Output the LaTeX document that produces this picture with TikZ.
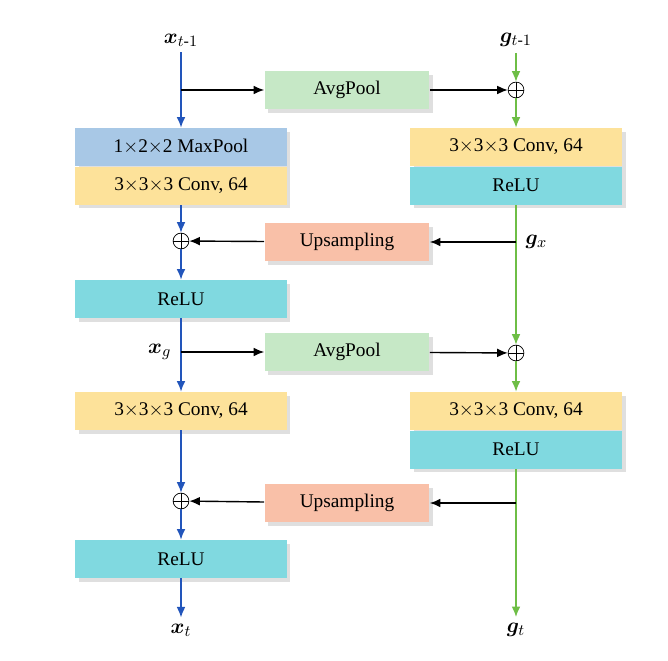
\documentclass[tikz,border=0pt]{standalone}
\usepackage{amsmath}
\usepackage{bm}
\usepackage{fontspec}
\setmainfont{Liberation Serif}
\usetikzlibrary{arrows.meta, positioning, shadows}
\definecolor{poolcolor}{RGB}{168, 200, 230}
\definecolor{convcolor}{RGB}{253, 226, 154}
\definecolor{relucolor}{RGB}{128, 217, 224}
\definecolor{avgcolor}{RGB}{198, 232, 198}
\definecolor{upcolor}{RGB}{249, 192, 168}
\definecolor{bluearrow}{RGB}{34, 85, 187}
\definecolor{greenarrow}{RGB}{110, 190, 70}

\begin{document}
\begin{tikzpicture}[
    x=0.02cm, y=-0.02cm,
    >={Latex[length=6pt, width=5pt]},
    block/.style={rectangle, minimum width=4.24cm, minimum height=0.76cm, inner sep=0pt, align=center,
        font=\fontsize{11}{13}\selectfont, drop shadow={shadow xshift=2pt, shadow yshift=-2pt, fill=black!25}},
    pool/.style={block, fill=poolcolor},
    conv/.style={block, fill=convcolor},
    relu/.style={block, fill=relucolor},
    avg/.style={block, fill=avgcolor, minimum width=3.3cm},
    up/.style={block, fill=upcolor, minimum width=3.3cm},
    plus/.style={circle, draw, inner sep=0pt, minimum size=9pt, path picture={
        \draw (path picture bounding box.north) -- (path picture bounding box.south)
              (path picture bounding box.west) -- (path picture bounding box.east);}},
    xarrow/.style={->, thick, draw=bluearrow},
    garrow/.style={->, thick, draw=greenarrow},
    crossarrow/.style={->, thick},
    label/.style={font=\fontsize{13}{15}\selectfont}
]
\useasboundingbox (0,0) rectangle (668,661);

% Inputs and outputs
\node[label] (xin) at (181, 40) {$\bm{x}_{t\text{-}1}$};
\node[label] (gin) at (516, 40) {$\bm{g}_{t\text{-}1}$};
\node[label] (xout) at (181, 630) {$\bm{x}_{t}$};
\node[label] (gout) at (516, 630) {$\bm{g}_{t}$};

% === Left branch ===
\node[pool] (maxpool) at (181, 147) {1$\times$2$\times$2 MaxPool};
\node[conv, below=0pt of maxpool] (lconv1) {3$\times$3$\times$3 Conv, 64};
\node[plus] (lplus1) at (181, 241) {};
\node[relu] (lrelu1) at (181, 299) {ReLU};
\node[conv] (lconv2) at (181, 411) {3$\times$3$\times$3 Conv, 64};
\node[plus] (lplus2) at (181, 501) {};
\node[relu] (lrelu2) at (181, 559) {ReLU};

% === Right branch ===
\node[plus] (rplus1) at (516, 90) {};
\node[conv] (rconv1) at (516, 147) {3$\times$3$\times$3 Conv, 64};
\node[relu, below=0pt of rconv1] (rrelu1) {ReLU};
\node[plus] (rplus2) at (516, 353) {};
\node[conv] (rconv2) at (516, 411) {3$\times$3$\times$3 Conv, 64};
\node[relu, below=0pt of rconv2] (rrelu2) {ReLU};

% === Middle ===
\node[avg] (avg1) at (347, 90) {AvgPool};
\node[up] (up1) at (347, 242) {Upsampling};
\node[avg] (avg2) at (347, 352) {AvgPool};
\node[up] (up2) at (347, 503) {Upsampling};

\coordinate (xa) at (181, 90);
\coordinate (xg) at (181, 352);
\coordinate (gx) at (516, 242);
\coordinate (gb) at (516, 503);
\node[label, right=2pt of gx] {$\bm{g}_{x}$};
\node[label, left=2pt of xg] {$\bm{x}_{g}$};

% Left arrows
\draw[xarrow] (xin) -- (maxpool);
\draw[xarrow] (lconv1) -- (lplus1);
\draw[xarrow] (lplus1) -- (lrelu1);
\draw[xarrow] (lrelu1) -- (lconv2);
\draw[xarrow] (lconv2) -- (lplus2);
\draw[xarrow] (lplus2) -- (lrelu2);
\draw[xarrow] (lrelu2) -- (xout);

% Right arrows
\draw[garrow] (gin) -- (rplus1);
\draw[garrow] (rplus1) -- (rconv1);
\draw[garrow] (rrelu1) -- (rplus2);
\draw[garrow] (rplus2) -- (rconv2);
\draw[garrow] (rrelu2) -- (gout);

% Cross arrows
\draw[crossarrow] (xa) -- (avg1);
\draw[crossarrow] (avg1) -- (rplus1);
\draw[crossarrow] (gx) -- (up1);
\draw[crossarrow] (up1) -- (lplus1);
\draw[crossarrow] (xg) -- (avg2);
\draw[crossarrow] (avg2) -- (rplus2);
\draw[crossarrow] (gb) -- (up2);
\draw[crossarrow] (up2) -- (lplus2);
\end{tikzpicture}
\end{document}
